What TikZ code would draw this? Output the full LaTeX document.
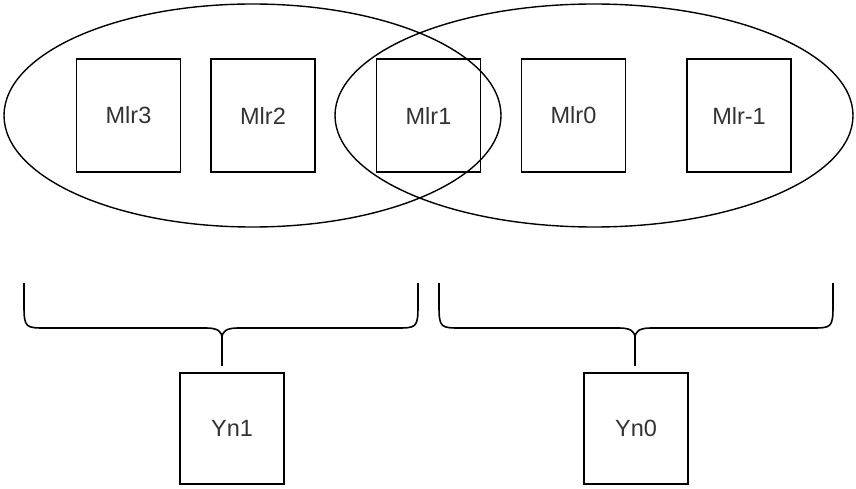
\documentclass[tikz,border=0pt]{standalone}
\usepackage{fontspec}
\setmainfont{Liberation Sans}
\tikzset{
  box/.style={draw=black, line width=1.6pt, minimum width=104pt, minimum height=113pt, inner sep=0pt, font=\fontsize{23.5}{25}\selectfont, text=black!80},
  grp/.style={draw=black, line width=1.4pt},
  brace/.style={draw=black, line width=1.6pt}
}
\begin{document}
\begin{tikzpicture}[x=1pt,y=-1pt]
\useasboundingbox (0,0) rectangle (856,489);
% groups
\draw[grp] (252.5,115.5) ellipse [x radius=248.5, y radius=111.5];
\draw[grp] (594,115.5) ellipse [x radius=259, y radius=111.5];
% boxes
\node[box] (m3) at (128.5,115.5) {Mlr3};
\node[box] (m2) at (263,115.5) {Mlr2};
\node[box] (m1) at (428.5,115.5) {Mlr1};
\node[box] (m0) at (573.5,115.5) {Mlr0};
\node[box] (mm1) at (739,115.5) {Mlr-1};
\node[box, minimum height=111pt] (y1) at (232,428.5) {Yn1};
\node[box, minimum height=111pt] (y0) at (636,428.5) {Yn0};
% braces
\coordinate (b1tip) at (222,338);
\coordinate (b1end) at (222,366);
\draw[brace] (24,283) -- (24,306) .. controls (24,328) and (26,328) .. (46,328) -- (206,328) .. controls (217,328) and (222,331) .. (b1tip) .. controls (222,331) and (227,328) .. (238,328) -- (396,328) .. controls (416,328) and (418,328) .. (418,306) -- (418,283);
\draw[brace] (b1tip) -- (b1end);
\coordinate (b0tip) at (635,338);
\coordinate (b0end) at (635,366);
\draw[brace] (439,283) -- (439,306) .. controls (439,328) and (441,328) .. (461,328) -- (619,328) .. controls (630,328) and (635,331) .. (b0tip) .. controls (635,331) and (640,328) .. (651,328) -- (811,328) .. controls (831,328) and (833,328) .. (833,306) -- (833,283);
\draw[brace] (b0tip) -- (b0end);
\end{tikzpicture}
\end{document}
